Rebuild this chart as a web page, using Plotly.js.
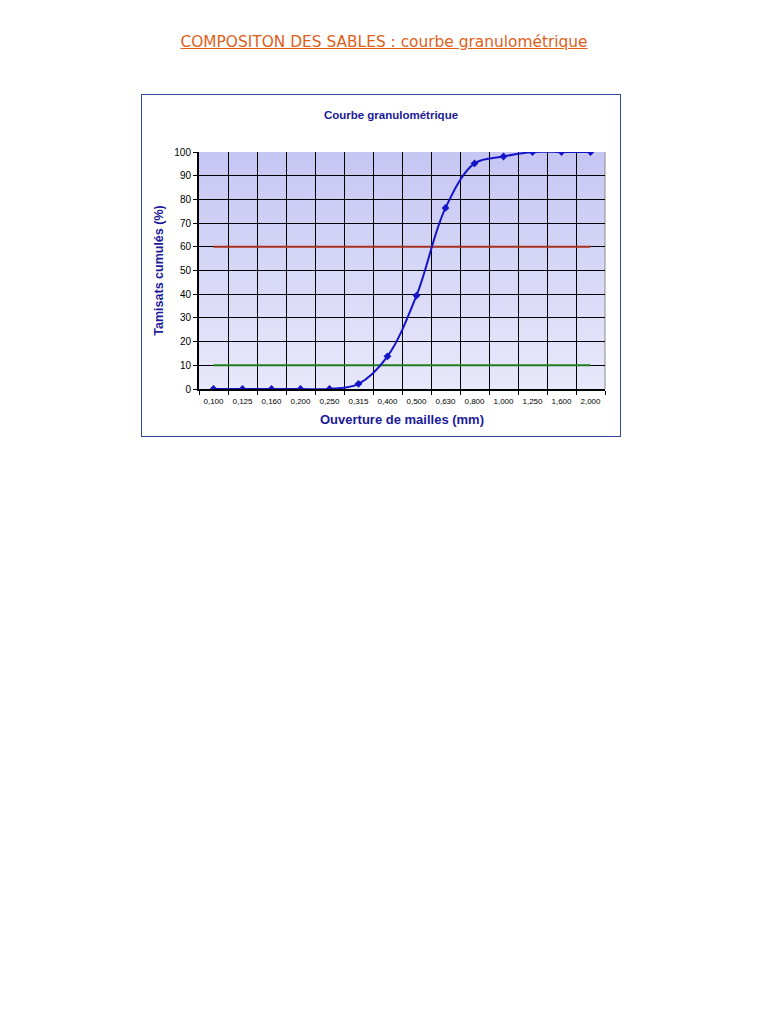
<!DOCTYPE html>
<html>
<head>
<meta charset="utf-8">
<script src="https://cdn.plot.ly/plotly-3.0.1.min.js"></script>
<style>
  html, body { margin: 0; padding: 0; background: #ffffff; width: 768px; height: 1024px; overflow: hidden; }
  #pagetitle { position: absolute; left: 0; top: 33px; width: 768px; text-align: center;
    font-family: "DejaVu Sans", sans-serif; font-size: 15.4px; color: #e0601a; text-decoration: underline; }
  #box { position: absolute; left: 141px; top: 94px; width: 480px; height: 343px; box-sizing: border-box;
    border: 1.5px solid #2c4a9c; background: #ffffff; }
  #chart { position: absolute; left: 0; top: 0; width: 477px; height: 340px; }
</style>
</head>
<body>
<div id="pagetitle">COMPOSITON DES SABLES : courbe granulométrique</div>
<div id="box"><div id="chart"></div></div>
<script>
const categories = ["0,100","0,125","0,160","0,200","0,250","0,315","0,400","0,500","0,630","0,800","1,000","1,250","1,600","2,000"];
const tamisats = [0, 0, 0, 0, 0, 2.2, 13.8, 39.4, 76.4, 95.2, 98.1, 100, 100, 100];
const limite60 = [60, 60, 60, 60, 60, 60, 60, 60, 60, 60, 60, 60, 60, 60];
const limite10 = [10, 10, 10, 10, 10, 10, 10, 10, 10, 10, 10, 10, 10, 10];
const yTicks = [0, 10, 20, 30, 40, 50, 60, 70, 80, 90, 100];

const gradSvg = '<svg xmlns="http://www.w3.org/2000/svg" width="10" height="100" preserveAspectRatio="none">' +
  '<defs><linearGradient id="g" x1="0" y1="0" x2="0" y2="1">' +
  '<stop offset="0" stop-color="#c6c6f3"/><stop offset="1" stop-color="#e8e8fb"/></linearGradient></defs>' +
  '<rect width="10" height="100" fill="url(#g)"/></svg>';
const gradUri = 'data:image/svg+xml;charset=utf-8,' + encodeURIComponent(gradSvg);

const font = "Arial, 'Liberation Sans', sans-serif";
const titleBlue = "#1a1a9a";

const traces = [
  { x: categories, y: limite60, type: 'scatter', mode: 'lines', line: { color: '#a8301e', width: 2 }, hoverinfo: 'skip' },
  { x: categories, y: limite10, type: 'scatter', mode: 'lines', line: { color: '#1f7f1f', width: 2 }, hoverinfo: 'skip' },
  { x: categories, y: tamisats, type: 'scatter', mode: 'lines+markers',
    line: { color: '#1414c8', width: 2, shape: 'spline', smoothing: 1 },
    marker: { symbol: 'diamond', size: 6, color: '#1414c8' } }
];

const layout = {
  width: 477, height: 340,
  margin: { l: 57, r: 14, t: 57, b: 46 },
  paper_bgcolor: '#ffffff',
  plot_bgcolor: 'rgba(0,0,0,0)',
  showlegend: false,
  title: { text: 'Courbe granulométrique', font: { family: font, size: 11.5, color: titleBlue, weight: 'bold' },
    xref: 'container', yref: 'container', x: 0.522, xanchor: 'center', y: 0.94, yanchor: 'middle' },
  xaxis: {
    type: 'category', range: [-0.5, 13.5], tickson: 'boundaries', tickangle: 0,
    showgrid: true, gridcolor: '#000000', gridwidth: 1,
    showline: true, linecolor: '#000000', linewidth: 2,
    ticks: 'outside', ticklen: 4, tickcolor: '#000000', tickwidth: 1,
    ticklabelstandoff: 3,
    tickfont: { family: font, size: 8, color: '#000000' },
    title: { text: 'Ouverture de mailles (mm)', font: { family: font, size: 13, color: titleBlue, weight: 'bold' }, standoff: 10 },
    fixedrange: true
  },
  yaxis: {
    range: [0, 100], tickvals: yTicks, ticktext: yTicks.map(String),
    showgrid: true, gridcolor: '#000000', gridwidth: 1,
    showline: true, linecolor: '#000000', linewidth: 2,
    ticks: 'outside', ticklen: 4, tickcolor: '#000000', tickwidth: 1,
    tickfont: { family: font, size: 10, color: '#000000' },
    title: { text: 'Tamisats cumulés (%)', font: { family: font, size: 12.5, color: titleBlue, weight: 'bold' }, standoff: 8 },
    zeroline: false, fixedrange: true
  },
  images: [{ source: gradUri, xref: 'paper', yref: 'paper', x: 0, y: 1, sizex: 1, sizey: 1,
    sizing: 'stretch', xanchor: 'left', yanchor: 'top', layer: 'below' }],
  shapes: [
    { type: 'line', xref: 'paper', yref: 'paper', x0: 1, x1: 1, y0: 0, y1: 1, line: { color: '#8a8a8a', width: 1 }, layer: 'below' }
  ]
};

Plotly.newPlot('chart', traces, layout, { displayModeBar: false, staticPlot: true });
</script>
</body>
</html>
